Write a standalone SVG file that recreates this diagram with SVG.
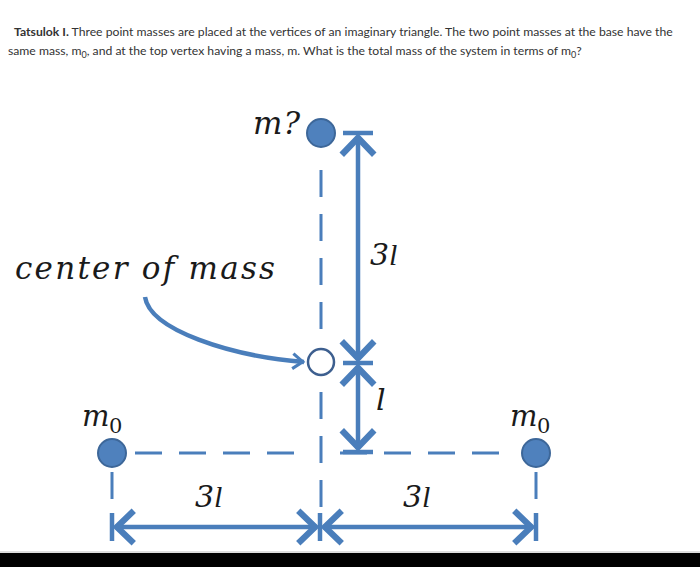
<svg xmlns="http://www.w3.org/2000/svg" width="700" height="567" viewBox="0 0 700 567">
<style>
.q{font-family:Lato,"Open Sans","Liberation Sans",sans-serif;font-size:12.2px;fill:#333}
.m{font-family:"DejaVu Serif","Liberation Serif",serif;font-style:italic;fill:#1a1a1a}
.u{font-family:"DejaVu Serif","Liberation Serif",serif;fill:#1a1a1a}
.ln{stroke:#4a7ebb;stroke-width:4.5;fill:none}
.ds{stroke:#4a7ebb;stroke-width:3;fill:none;stroke-dasharray:27 17}
.mass{fill:#4f81bd;stroke:#3d6799;stroke-width:2}
</style>
<defs>
<marker id="ah" markerUnits="userSpaceOnUse" markerWidth="40" markerHeight="40" viewBox="-20 -16 24 32" refX="0" refY="0" orient="auto-start-reverse" overflow="visible">
<path d="M-15,-13 L-1.5,0 L-15,13" fill="none" stroke="#4a7ebb" stroke-width="5"/>
</marker>
<marker id="sa" markerUnits="userSpaceOnUse" markerWidth="20" markerHeight="20" viewBox="-12 -8 14 16" refX="0" refY="0" orient="auto" overflow="visible">
<path d="M-9,-6 L-1,0 L-9,6" fill="none" stroke="#4a7ebb" stroke-width="2.5"/>
</marker>
</defs>
<rect width="700" height="567" fill="#fff"/>
<g id="question">
<text class="q" x="14" y="36"><tspan font-weight="bold">Tatsulok I.</tspan> Three point masses are placed at the vertices of an imaginary triangle. The two point masses at the base have the</text>
<text class="q" x="8" y="55">same mass, m<tspan font-size="9" dy="3">0</tspan><tspan dy="-3">, and at the top vertex having a mass, m. What is the total mass of the system in terms of m</tspan><tspan font-size="9" dy="3">0</tspan><tspan dy="-3">?</tspan></text>
</g>
<g id="connectors">
<line class="ds" x1="321" y1="170" x2="321" y2="345"/>
<line class="ds" x1="321" y1="392" x2="321" y2="520" stroke-dasharray="22 13"/>
<line class="ds" x1="135" y1="453" x2="305" y2="453" stroke-dasharray="30 13"/>
<line class="ds" x1="340" y1="453" x2="515" y2="453" stroke-dasharray="0 3 29 13"/>
<line class="ds" x1="112" y1="472" x2="112" y2="503"/>
<line class="ds" x1="536" y1="472" x2="536" y2="503"/>
<line class="ln" x1="343" y1="133" x2="373" y2="133" stroke-width="3"/>
<line class="ln" x1="343" y1="363" x2="373" y2="363" stroke-width="3"/>
<line class="ln" x1="343" y1="452" x2="373" y2="452" stroke-width="3"/>
<line class="ln" x1="358" y1="136" x2="358" y2="360" marker-start="url(#ah)" marker-end="url(#ah)"/>
<line class="ln" x1="358" y1="366" x2="358" y2="449" marker-start="url(#ah)" marker-end="url(#ah)"/>
<line class="ln" x1="112" y1="513" x2="112" y2="541" stroke-width="3"/>
<line class="ln" x1="320" y1="513" x2="320" y2="541" stroke-width="3"/>
<line class="ln" x1="536" y1="513" x2="536" y2="541" stroke-width="3"/>
<line class="ln" x1="115" y1="527" x2="317" y2="527" marker-start="url(#ah)" marker-end="url(#ah)"/>
<line class="ln" x1="323" y1="527" x2="533" y2="527" marker-start="url(#ah)" marker-end="url(#ah)"/>
<path class="ln" stroke-width="3" d="M145,297 C150,330 230,356 304,362" marker-end="url(#sa)"/>
</g>
<g id="top-mass">
<circle class="mass" cx="321" cy="133" r="14"/>
<text class="m" x="253" y="134" font-size="31" textLength="47">m?</text>
</g>
<g id="center-of-mass">
<circle cx="321" cy="362" r="13" fill="#fff" stroke="#3d5f8f" stroke-width="2.5"/>
<text class="m" x="15" y="279" font-size="31" textLength="260">center of mass</text>
</g>
<g id="left-mass">
<circle class="mass" cx="112" cy="453" r="14"/>
<text class="m" x="82" y="426" font-size="29">m</text><text class="u" x="109" y="433" font-size="21">0</text>
</g>
<g id="right-mass">
<circle class="mass" cx="536" cy="453" r="14"/>
<text class="m" x="510" y="426" font-size="29">m</text><text class="u" x="537" y="433" font-size="21">0</text>
</g>
<g id="labels">
<text class="m" x="370" y="265" font-size="30">3<tspan font-family="'Liberation Serif',serif">l</tspan></text>
<text class="m" x="376" y="410" font-size="30" font-family="'Liberation Serif',serif">l</text>
<text class="m" x="195" y="507" font-size="30">3<tspan font-family="'Liberation Serif',serif">l</tspan></text>
<text class="m" x="403" y="507" font-size="30">3<tspan font-family="'Liberation Serif',serif">l</tspan></text>
</g>
<rect x="0" y="553" width="700" height="14" fill="#000"/>
<line x1="0" y1="552" x2="700" y2="552" stroke="#bbb" stroke-width="1"/>
</svg>
